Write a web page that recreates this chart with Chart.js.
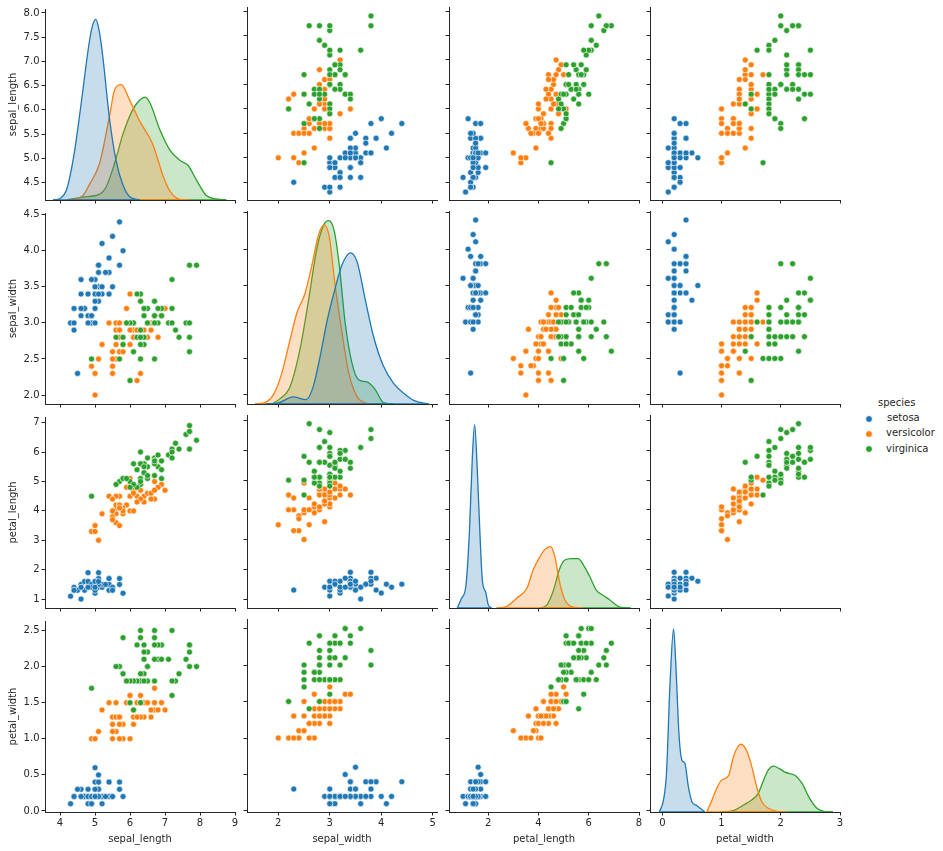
<!DOCTYPE html>
<html>
<head>
<meta charset="utf-8">
<script src="https://cdn.jsdelivr.net/npm/chart.js@4/dist/chart.umd.js"></script>
<style>
html, body { margin: 0; padding: 0; background: #fff; }
#plot { position: relative; width: 943px; height: 851px; overflow: hidden; font: 10px "DejaVu Sans"; color: #262626; }
canvas { position: absolute; }
.legend-text { position: absolute; line-height: 12px; white-space: nowrap; }
.legend-dot { position: absolute; width: 6px; height: 6px; border-radius: 50%; border: 0.5px solid #fff; }
</style>
</head>
<body>
<div id="plot"></div>
<script>
const species = ['setosa', 'versicolor', 'virginica'];
const colors = ['#1f77b4', '#ff7f0e', '#2ca02c'];
const fills = ['rgba(31,119,180,0.25)', 'rgba(255,127,14,0.25)', 'rgba(44,160,44,0.25)'];
const measures = ['sepal_length', 'sepal_width', 'petal_length', 'petal_width'];

// 50 rows per species, in the order of the species list
const sepal_length = [
    5.1,4.9,4.7,4.6,5.0,5.4,4.6,5.0,4.4,4.9,5.4,4.8,4.8,4.3,5.8,5.7,5.4,5.1,5.7,5.1,5.4,5.1,4.6,5.1,4.8,5.0,5.0,5.2,5.2,4.7,4.8,5.4,5.2,5.5,4.9,5.0,5.5,4.9,4.4,5.1,5.0,4.5,4.4,5.0,5.1,4.8,5.1,4.6,5.3,5.0,
    7.0,6.4,6.9,5.5,6.5,5.7,6.3,4.9,6.6,5.2,5.0,5.9,6.0,6.1,5.6,6.7,5.6,5.8,6.2,5.6,5.9,6.1,6.3,6.1,6.4,6.6,6.8,6.7,6.0,5.7,5.5,5.5,5.8,6.0,5.4,6.0,6.7,6.3,5.6,5.5,5.5,6.1,5.8,5.0,5.6,5.7,5.7,6.2,5.1,5.7,
    6.3,5.8,7.1,6.3,6.5,7.6,4.9,7.3,6.7,7.2,6.5,6.4,6.8,5.7,5.8,6.4,6.5,7.7,7.7,6.0,6.9,5.6,7.7,6.3,6.7,7.2,6.2,6.1,6.4,7.2,7.4,7.9,6.4,6.3,6.1,7.7,6.3,6.4,6.0,6.9,6.7,6.9,5.8,6.8,6.7,6.7,6.3,6.5,6.2,5.9
];
const sepal_width = [
    3.5,3.0,3.2,3.1,3.6,3.9,3.4,3.4,2.9,3.1,3.7,3.4,3.0,3.0,4.0,4.4,3.9,3.5,3.8,3.8,3.4,3.7,3.6,3.3,3.4,3.0,3.4,3.5,3.4,3.2,3.1,3.4,4.1,4.2,3.1,3.2,3.5,3.6,3.0,3.4,3.5,2.3,3.2,3.5,3.8,3.0,3.8,3.2,3.7,3.3,
    3.2,3.2,3.1,2.3,2.8,2.8,3.3,2.4,2.9,2.7,2.0,3.0,2.2,2.9,2.9,3.1,3.0,2.7,2.2,2.5,3.2,2.8,2.5,2.8,2.9,3.0,2.8,3.0,2.9,2.6,2.4,2.4,2.7,2.7,3.0,3.4,3.1,2.3,3.0,2.5,2.6,3.0,2.6,2.3,2.7,3.0,2.9,2.9,2.5,2.8,
    3.3,2.7,3.0,2.9,3.0,3.0,2.5,2.9,2.5,3.6,3.2,2.7,3.0,2.5,2.8,3.2,3.0,3.8,2.6,2.2,3.2,2.8,2.8,2.7,3.3,3.2,2.8,3.0,2.8,3.0,2.8,3.8,2.8,2.8,2.6,3.0,3.4,3.1,3.0,3.1,3.1,3.1,2.7,3.2,3.3,3.0,2.5,3.0,3.4,3.0
];
const petal_length = [
    1.4,1.4,1.3,1.5,1.4,1.7,1.4,1.5,1.4,1.5,1.5,1.6,1.4,1.1,1.2,1.5,1.3,1.4,1.7,1.5,1.7,1.5,1.0,1.7,1.9,1.6,1.6,1.5,1.4,1.6,1.6,1.5,1.5,1.4,1.5,1.2,1.3,1.4,1.3,1.5,1.3,1.3,1.3,1.6,1.9,1.4,1.6,1.4,1.5,1.4,
    4.7,4.5,4.9,4.0,4.6,4.5,4.7,3.3,4.6,3.9,3.5,4.2,4.0,4.7,3.6,4.4,4.5,4.1,4.5,3.9,4.8,4.0,4.9,4.7,4.3,4.4,4.8,5.0,4.5,3.5,3.8,3.7,3.9,5.1,4.5,4.5,4.7,4.4,4.1,4.0,4.4,4.6,4.0,3.3,4.2,4.2,4.2,4.3,3.0,4.1,
    6.0,5.1,5.9,5.6,5.8,6.6,4.5,6.3,5.8,6.1,5.1,5.3,5.5,5.0,5.1,5.3,5.5,6.7,6.9,5.0,5.7,4.9,6.7,4.9,5.7,6.0,4.8,4.9,5.6,5.8,6.1,6.4,5.6,5.1,5.6,6.1,5.6,5.5,4.8,5.4,5.6,5.1,5.1,5.9,5.7,5.2,5.0,5.2,5.4,5.1
];
const petal_width = [
    0.2,0.2,0.2,0.2,0.2,0.4,0.3,0.2,0.2,0.1,0.2,0.2,0.1,0.1,0.2,0.4,0.4,0.3,0.3,0.3,0.2,0.4,0.2,0.5,0.2,0.2,0.4,0.2,0.2,0.2,0.2,0.4,0.1,0.2,0.2,0.2,0.2,0.1,0.2,0.2,0.3,0.3,0.2,0.6,0.4,0.3,0.2,0.2,0.2,0.2,
    1.4,1.5,1.5,1.3,1.5,1.3,1.6,1.0,1.3,1.4,1.0,1.5,1.0,1.4,1.3,1.4,1.5,1.0,1.5,1.1,1.8,1.3,1.5,1.2,1.3,1.4,1.4,1.7,1.5,1.0,1.1,1.0,1.2,1.6,1.5,1.6,1.5,1.3,1.3,1.3,1.2,1.4,1.2,1.0,1.3,1.2,1.3,1.3,1.1,1.3,
    2.5,1.9,2.1,1.8,2.2,2.1,1.7,1.8,1.8,2.5,2.0,1.9,2.1,2.0,2.4,2.3,1.8,2.2,2.3,1.5,2.3,2.0,2.0,1.8,2.1,1.8,1.8,1.8,2.1,1.6,1.9,2.0,2.2,1.5,1.4,2.3,2.4,1.8,1.8,2.1,2.4,2.3,1.9,2.3,2.5,2.3,1.9,2.0,2.3,1.8
];
const columns = [sepal_length, sepal_width, petal_length, petal_width];

// density curves
const kdeSL0x = [3.8,4.0,4.2,4.4,4.6,4.82,4.92,5.02,5.12,5.22,5.41,5.6,5.8,6.0,6.28];
const kdeSL0y = [0,0.01,0.08,0.31,0.65,1.05,1.18,1.23,1.15,0.98,0.56,0.27,0.10,0.02,0];
const kdeSL1x = [4.27,4.65,4.85,5.13,5.42,5.56,5.75,5.99,6.27,6.65,6.95,7.14,7.42,7.7];
const kdeSL1y = [0,0.03,0.11,0.25,0.58,0.75,0.785,0.68,0.54,0.38,0.16,0.06,0.005,0];
const kdeSL2x = [4.2,4.65,5.13,5.32,5.56,5.8,6.09,6.28,6.43,6.57,6.85,7.14,7.42,7.66,7.9,8.18,8.47,8.75];
const kdeSL2y = [0,0.02,0.04,0.09,0.25,0.45,0.62,0.68,0.70,0.66,0.48,0.34,0.27,0.235,0.135,0.03,0.007,0];

const kdeSW0x = [1.76,2.0,2.29,2.54,2.68,2.81,2.95,3.08,3.24,3.4,3.53,3.69,3.85,4.04,4.24,4.43,4.63,4.92];
const kdeSW0y = [0,0.007,0.048,0.03,0.12,0.32,0.57,0.755,0.95,1.03,0.97,0.71,0.46,0.26,0.14,0.075,0.025,0];
const kdeSW1x = [1.55,1.74,1.9,2.06,2.23,2.36,2.52,2.65,2.78,2.89,2.99,3.1,3.24,3.37,3.53,3.72,3.85];
const kdeSW1y = [0,0.01,0.06,0.2,0.44,0.62,0.755,0.94,1.15,1.22,1.14,0.82,0.48,0.21,0.05,0.005,0];
const kdeSW2x = [1.87,2.03,2.23,2.42,2.58,2.75,2.88,2.98,3.08,3.18,3.3,3.43,3.56,3.72,3.88,4.04,4.24];
const kdeSW2y = [0,0.035,0.12,0.37,0.69,1.06,1.22,1.25,1.19,0.96,0.55,0.28,0.165,0.15,0.1,0.01,0];

const kdePL0x = [0.77,0.94,1.11,1.25,1.37,1.46,1.56,1.67,1.77,1.9,2.0,2.13];
const kdePL0y = [0,0.13,0.29,1.0,2.02,2.45,1.89,1.0,0.36,0.21,0.045,0];
const kdePL1x = [2.33,2.73,3.13,3.55,3.79,4.03,4.25,4.48,4.65,4.85,5.05,5.31,5.75];
const kdePL1y = [0,0.02,0.13,0.27,0.51,0.67,0.78,0.82,0.69,0.33,0.11,0.02,0];
const kdePL2x = [4.05,4.32,4.58,4.85,5.05,5.31,5.58,5.78,6.04,6.3,6.57,6.83,7.23,7.66];
const kdePL2y = [0,0.035,0.22,0.53,0.64,0.66,0.66,0.58,0.42,0.24,0.17,0.11,0.013,0];

const kdePW0x = [-0.05,0.02,0.07,0.13,0.19,0.23,0.28,0.33,0.38,0.44,0.5,0.58,0.64,0.72];
const kdePW0y = [0,0.33,1.05,3.5,5.0,3.96,2.15,1.42,1.33,0.69,0.28,0.18,0.1,0];
const kdePW1x = [0.75,0.84,0.92,1.0,1.12,1.2,1.29,1.33,1.43,1.51,1.6,1.68,1.79,1.93,2.08];
const kdePW1y = [0,0.33,0.65,0.87,1.0,1.51,1.81,1.85,1.65,1.24,0.65,0.28,0.1,0.02,0];
const kdePW2x = [0.98,1.2,1.37,1.51,1.62,1.71,1.79,1.88,1.97,2.08,2.25,2.36,2.47,2.61,2.72,2.88];
const kdePW2y = [0,0.04,0.19,0.33,0.51,0.87,1.15,1.25,1.19,1.08,0.99,0.78,0.42,0.1,0.02,0];

const kdeX = [[kdeSL0x,kdeSL1x,kdeSL2x],[kdeSW0x,kdeSW1x,kdeSW2x],[kdePL0x,kdePL1x,kdePL2x],[kdePW0x,kdePW1x,kdePW2x]];
const kdeY = [[kdeSL0y,kdeSL1y,kdeSL2y],[kdeSW0y,kdeSW1y,kdeSW2y],[kdePL0y,kdePL1y,kdePL2y],[kdePW0y,kdePW1y,kdePW2y]];
const kdeTops = [1.30, 1.315, 2.578, 5.27];

const xTicks = [[4,5,6,7,8,9],[2,3,4,5],[2,4,6,8],[0,1,2,3]];
const yTicks = [[4.5,5,5.5,6,6.5,7,7.5,8],[2,2.5,3,3.5,4,4.5],[1,2,3,4,5,6,7],[0,0.5,1,1.5,2,2.5]];
const yDecimals = [1,1,0,1];
const xRanges = [[3.57,9.0],[1.392,5.083],[0.44,8.0],[-0.208,3.0]];
const yRanges = [[4.138,8.082],[1.876,4.523],[0.698,7.192],[-0.014,2.631]];

const INK = '#262626';
const FONT = {family: '"DejaVu Sans"', size: 10};
const panelLefts = [0, 202, 404, 605];
const panelTops = [1, 205, 409, 613];
const marginLeft = 45, marginTop = 6, marginBottom = 39, marginRight = 12;
const panelW = 190, panelH = 193;

function axis(row, col, isX) {
    let values = isX ? xTicks[col] : yTicks[row];
    let range = isX ? xRanges[col] : yRanges[row];
    let showLabels = isX ? row === 3 : col === 0;
    let name = isX ? measures[col] : measures[row];
    return {
        type: 'linear',
        position: isX ? 'bottom' : 'left',
        min: range[0],
        max: range[1],
        afterBuildTicks: s => { s.ticks = values.map(v => ({value: v})); },
        afterFit: s => {
            if (isX) s.height = marginBottom; else s.width = marginLeft;
        },
        border: {display: true, color: INK, width: 1},
        grid: {drawOnChartArea: false, drawTicks: true, tickLength: 3.5, tickColor: INK, tickWidth: 1},
        ticks: {
            display: showLabels,
            color: INK,
            font: FONT,
            padding: 2,
            autoSkip: false,
            maxRotation: 0,
            callback: v => isX ? String(v) : v.toFixed(yDecimals[row])
        },
        title: {display: showLabels, text: name, color: INK, font: FONT, padding: {top: 7, bottom: 6}}
    };
}

function scatterSets(row, col) {
    return species.map((name, i) => ({
        label: name,
        order: -i,
        data: columns[col].slice(i * 50, (i + 1) * 50).map((v, k) => ({x: v, y: columns[row][i * 50 + k]})),
        backgroundColor: colors[i],
        borderColor: '#fff',
        borderWidth: 0.6,
        pointRadius: 3
    }));
}

function kdeSets(col) {
    let sets = [];
    species.forEach((name, i) => {
        let xs = kdeX[col][i];
        let ys = kdeY[col][i];
        sets.push({
            type: 'line',
            label: name,
            yAxisID: 'yk',
            order: i,
            data: xs.map((v, k) => ({x: v, y: ys[k]})),
            borderColor: colors[i],
            backgroundColor: fills[i],
            borderWidth: 1.3,
            pointRadius: 0,
            fill: 'origin',
            cubicInterpolationMode: 'monotone'
        });
        sets.push({
            type: 'line',
            label: name + ' base',
            yAxisID: 'yk',
            order: i,
            data: [{x: xs[0], y: 0}, {x: xs[xs.length - 1], y: 0}],
            borderColor: colors[i],
            borderWidth: 1.3,
            pointRadius: 0,
            fill: false
        });
    });
    return sets;
}

const plot = document.getElementById('plot');
for (let row = 0; row < 4; row++) {
    for (let col = 0; col < 4; col++) {
        let canvas = document.createElement('canvas');
        canvas.width = marginLeft + panelW + marginRight;
        canvas.height = marginTop + panelH + marginBottom;
        canvas.style.left = panelLefts[col] + 'px';
        canvas.style.top = panelTops[row] + 'px';
        plot.appendChild(canvas);
        let scales = {x: axis(row, col, true), y: axis(row, col, false)};
        if (row === col) {
            scales.yk = {display: false, min: 0, max: kdeTops[col]};
        }
        new Chart(canvas, {
            type: 'scatter',
            data: {datasets: row === col ? kdeSets(col) : scatterSets(row, col)},
            options: {
                responsive: false,
                animation: false,
                events: [],
                layout: {autoPadding: false, padding: {top: marginTop, right: marginRight, left: 0, bottom: 0}},
                plugins: {legend: {display: false}, tooltip: {enabled: false}},
                scales: scales
            }
        });
    }
}

// figure legend on the right
function legendText(text, left, top) {
    let el = document.createElement('div');
    el.className = 'legend-text';
    el.textContent = text;
    el.style.left = left + 'px';
    el.style.top = top + 'px';
    plot.appendChild(el);
}
legendText('species', 878, 397);
species.forEach((name, i) => {
    legendText(name, i === 0 ? 887 : 886, 412 + i * 15.3);
    let dot = document.createElement('div');
    dot.className = 'legend-dot';
    dot.style.left = '865px';
    dot.style.top = (415 + i * 15) + 'px';
    dot.style.background = colors[i];
    plot.appendChild(dot);
});
</script>
</body>
</html>
